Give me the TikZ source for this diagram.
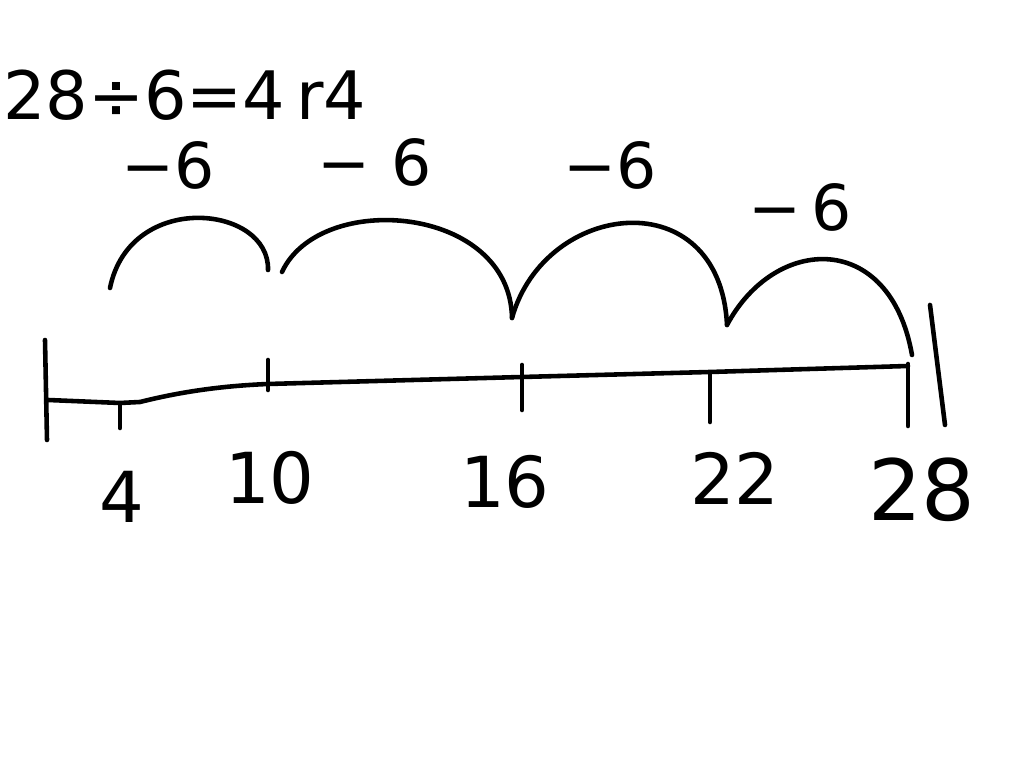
\documentclass[tikz,border=0pt]{standalone}
\usepackage{fontspec}
\setmainfont{DejaVu Sans}
\usetikzlibrary{calc}

\tikzset{
  pen/.style={line width=1.3pt, line cap=round, line join=round},
  numlabel/.style={font=\fontsize{20}{20}\selectfont},
  jumplabel/.style={font=\fontsize{18}{18}\selectfont}
}

\begin{document}
\begin{tikzpicture}[x=0.01cm, y=-0.01cm]
\useasboundingbox (0,0) rectangle (1024,768);

\node[inner sep=0pt] (Q) at (185,95) {\fontsize{19}{19}\selectfont 28÷6=4\,r4};

% number line
\coordinate (S) at (48,400);
\coordinate (P1) at (120,403);
\coordinate (P2) at (268,384);
\coordinate (P3) at (522,377);
\coordinate (P4) at (710,372);
\coordinate (P5) at (908,366);
\draw[pen] (S) -- (P1) -- (140,402) .. controls (180,392) and (220,386) .. (P2) -- (P3) -- (P4) -- (P5);

\draw[pen] (45,340) -- (47,440);
\draw[pen] (930,305) -- (945,425);

\draw[pen] ($(P1)+(0,3)$) -- ++(0,22);
\draw[pen] ($(P2)+(0,6)$) -- ++(0,-30);
\draw[pen] ($(P3)+(0,33)$) -- ++(0,-45);
\draw[pen] ($(P4)+(0,50)$) -- ++(0,-48);
\draw[pen] ($(P5)+(0,60)$) -- ++(0,-62);

\node[numlabel] (L1) at (122,497) {4};
\node[numlabel] (L2) at (270,478) {10};
\node[numlabel] (L3) at (505,482) {16};
\node[numlabel] (L4) at (735,478) {22};
\node[numlabel, font=\fontsize{24}{24}\selectfont] (L5) at (922,490) {28};

% jumps
\coordinate (A0) at (110,288);
\coordinate (A1) at (268,270);
\coordinate (B0) at (282,272);
\coordinate (B1) at (512,318);
\coordinate (C1) at (727,325);
\coordinate (D1) at (912,355);
\draw[pen] (A0) .. controls (130,190) and (270,205) .. (A1);
\draw[pen] (B0) .. controls (320,190) and (510,205) .. (B1);
\draw[pen] (B1) .. controls (545,200) and (720,180) .. (C1);
\draw[pen] (C1) .. controls (775,235) and (890,230) .. (D1);

\node[jumplabel] (J1) at (168,165) {−6};
\node[jumplabel] (J2) at (375,162) {−\,\,6};
\node[jumplabel] (J3) at (610,165) {−6};
\node[jumplabel] (J4) at (800,207) {−\,6};
\end{tikzpicture}
\end{document}
